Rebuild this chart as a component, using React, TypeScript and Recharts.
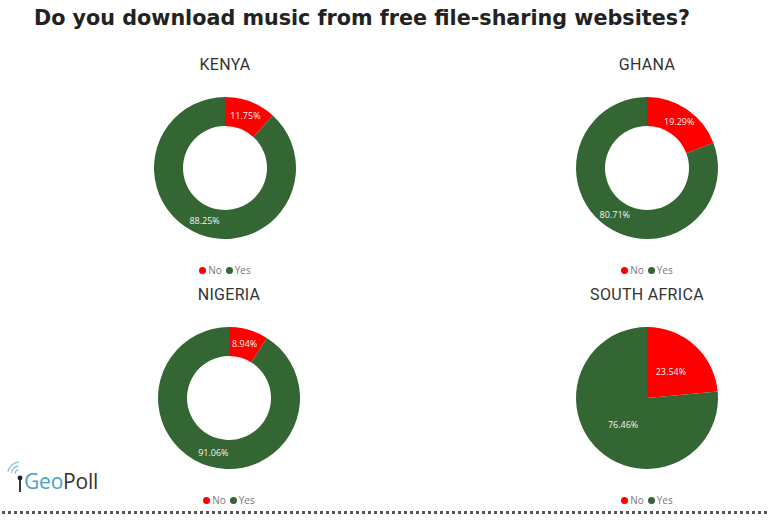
import { PieChart, Pie, Cell, Legend } from 'recharts';

const categories = ['No', 'Yes'];
const countries = ['KENYA', 'GHANA', 'NIGERIA', 'SOUTH AFRICA'];
const kenyaValues = [11.75, 88.25];
const ghanaValues = [19.29, 80.71];
const nigeriaValues = [8.94, 91.06];
const southAfricaValues = [23.54, 76.46];

const COLORS = ['#FE0000', '#336633'];
const RADIAN = Math.PI / 180;

const toRows = (values: number[]) =>
  categories.map((name, i) => ({ name, value: values[i] }));

const renderLabel = (props: any) => {
  const { cx, cy, midAngle, innerRadius, outerRadius, value } = props;
  const r = (innerRadius + outerRadius) / 2;
  const x = cx + r * Math.cos(-midAngle * RADIAN);
  const y = cy + r * Math.sin(-midAngle * RADIAN);
  return (
    <text
      x={x}
      y={y}
      fill="#f4f4f4"
      textAnchor="middle"
      dominantBaseline="central"
      fontSize={9}
      fontWeight={500}
      fontFamily="'Open Sans', sans-serif"
    >
      {`${value.toFixed(2)}%`}
    </text>
  );
};

// tight power-bi style legend: dot + label, small gap
const renderLegend = (props: any) => {
  const items = props.payload || [];
  return (
    <div style={{ display: 'flex', justifyContent: 'center', alignItems: 'center', height: 12 }}>
      {items.map((item: any, i: number) => (
        <div key={`lg-${i}`} style={{ display: 'flex', alignItems: 'center', marginRight: i < items.length - 1 ? 4 : 0 }}>
          <span
            style={{
              width: 7,
              height: 7,
              borderRadius: '50%',
              background: item.color,
              display: 'inline-block',
              marginRight: 2,
            }}
          />
          <span style={{ color: '#777', fontSize: 10, fontFamily: "'Open Sans', sans-serif", lineHeight: '12px' }}>
            {item.value}
          </span>
        </div>
      ))}
    </div>
  );
};

type DonutProps = {
  title: string;
  values: number[];
  left: number;
  top: number;
  hole: boolean;
};

const Donut = ({ title, values, left, top, hole }: DonutProps) => (
  <div style={{ position: 'absolute', left, top, width: 200, height: 230 }}>
    <div
      style={{
        position: 'absolute',
        top: 0,
        width: 200,
        textAlign: 'center',
        fontFamily: 'Roboto, sans-serif',
        fontSize: 16,
        color: '#333',
        lineHeight: '20px',
        letterSpacing: 0.3,
      }}
    >
      {title}
    </div>
    <PieChart width={200} height={230} margin={{ top: 0, right: 0, bottom: 0, left: 0 }}>
      <Pie
        data={toRows(values)}
        dataKey="value"
        nameKey="name"
        cx={100}
        cy={113}
        innerRadius={hole ? 42 : 0}
        outerRadius={71}
        startAngle={90}
        endAngle={-270}
        stroke="none"
        label={renderLabel}
        labelLine={false}
        isAnimationActive={false}
      >
        {values.map((_, i) => (
          <Cell key={`cell-${i}`} fill={COLORS[i % COLORS.length]} />
        ))}
      </Pie>
      <Legend verticalAlign="bottom" content={renderLegend} wrapperStyle={{ bottom: 9 }} />
    </PieChart>
  </div>
);

const GeoPollLogo = () => (
  <div style={{ position: 'absolute', left: 6, top: 460, width: 100, height: 36 }}>
    <svg width={22} height={36} style={{ position: 'absolute', left: 0, top: 0 }}>
      <path d="M2 12 A 12 12 0 0 1 13 2" stroke="#8fc6e0" strokeWidth={1.3} fill="none" />
      <path d="M5.5 13 A 8 8 0 0 1 12.5 6" stroke="#8fc6e0" strokeWidth={1.3} fill="none" />
      <path d="M9 14 A 4 4 0 0 1 12.5 10" stroke="#8fc6e0" strokeWidth={1.3} fill="none" />
      <circle cx={14} cy={18} r={2.4} fill="#222" />
      <rect x={13.1} y={18} width={1.8} height={14} fill="#222" />
    </svg>
    <div
      style={{
        position: 'absolute',
        left: 18,
        top: 9,
        fontFamily: "'Open Sans', sans-serif",
        fontSize: 21,
        lineHeight: '24px',
        letterSpacing: -0.2,
      }}
    >
      <span style={{ color: '#4c9fcc' }}>Geo</span>
      <span style={{ color: '#333' }}>Poll</span>
    </div>
  </div>
);

const App = () => {
  return (
    <div
      style={{
        position: 'absolute',
        left: 0,
        top: 0,
        width: 768,
        height: 527,
        background: '#fff',
        overflow: 'hidden',
      }}
    >
      <svg width={768} height={40} style={{ position: 'absolute', left: 0, top: 0 }}>
        <text
          x={34}
          y={25}
          textLength={656}
          lengthAdjust="spacingAndGlyphs"
          fontFamily="'DejaVu Sans', sans-serif"
          fontWeight={700}
          fontSize={21}
          fill="#222"
        >
          Do you download music from free file-sharing websites?
        </text>
      </svg>
      <Donut title={countries[0]} values={kenyaValues} left={125} top={55} hole />
      <Donut title={countries[1]} values={ghanaValues} left={547} top={55} hole />
      <Donut title={countries[2]} values={nigeriaValues} left={129} top={285} hole />
      <Donut title={countries[3]} values={southAfricaValues} left={547} top={285} hole={false} />
      <GeoPollLogo />
      <div
        style={{
          position: 'absolute',
          left: 2,
          top: 511,
          width: 766,
          height: 3,
          background: 'repeating-linear-gradient(to right, #555 0 3px, transparent 3px 6px)',
        }}
      />
    </div>
  );
};

export default App;
